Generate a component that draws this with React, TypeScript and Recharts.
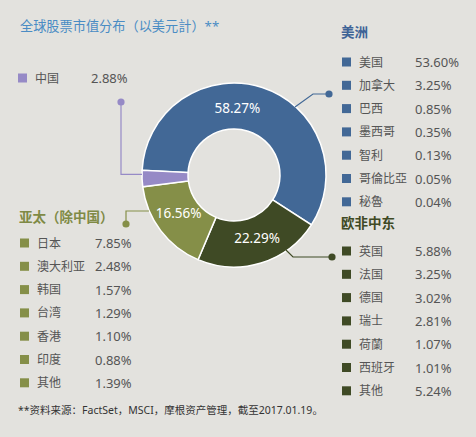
import React from 'react';
import { PieChart, Pie, Cell } from 'recharts';

const regions = ['美洲', '欧非中东', '亚太（除中国）', '中国'];
const regionValues = [58.27, 22.29, 16.56, 2.88];
const regionColors = ['#426896', '#3f4a25', '#858f48', '#968ac6'];

const americasNames = ['美国', '加拿大', '巴西', '墨西哥', '智利', '哥倫比亞', '秘魯'];
const americasValues = ['53.60%', '3.25%', '0.85%', '0.35%', '0.13%', '0.05%', '0.04%'];
const emeaNames = ['英国', '法国', '德国', '瑞士', '荷蘭', '西班牙', '其他'];
const emeaValues = ['5.88%', '3.25%', '3.02%', '2.81%', '1.07%', '1.01%', '5.24%'];
const asiaNames = ['日本', '澳大利亚', '韩国', '台湾', '香港', '印度', '其他'];
const asiaValues = ['7.85%', '2.48%', '1.57%', '1.29%', '1.10%', '0.88%', '1.39%'];
const chinaValue = '2.88%';

const title = '全球股票市值分布（以美元計）**';
const footnote = '**资料来源：FactSet，MSCI，摩根资产管理，截至2017.01.19。';

const data = regions.map((name, i) => ({ name, value: regionValues[i] }));

const FONT = '"Noto Sans", "Noto Sans CJK SC", sans-serif';
const RAD = Math.PI / 180;

// leader line shapes relative to the pie centre: [dot, corner, edge]
const leaders: number[][][] = [
  [[95, -81], [79, -81], [61, -68]],
  [[98, 82], [59, 82], [52, 75]],
  [[-108, 49], [-108, 36], [-85, 36]],
  [[-113, -73], [-113, -0.7], [-92, -0.7]],
];
const labelAngleShift = [15, 3, -3, 0];

const renderLabel = (props: any) => {
  const { cx, cy, midAngle, index } = props;
  const lead = leaders[index];
  const color = regionColors[index];
  const pts = lead.map(([dx, dy]) => `${cx + dx},${cy + dy}`).join(' ');
  const a = (midAngle + labelAngleShift[index]) * RAD;
  const r = 67;
  const tx = cx + r * Math.cos(a);
  const ty = cy - r * Math.sin(a);
  return (
    <g key={`lbl-${index}`}>
      <polyline points={pts} fill="none" stroke={color} strokeWidth={1.2} />
      <circle cx={cx + lead[0][0]} cy={cy + lead[0][1]} r={3.6} fill={color} />
      {index < 3 && (
        <text x={tx} y={ty} fill="#ffffff" fontSize={13.5} fontFamily={FONT} textAnchor="middle" dominantBaseline="central">
          {`${regionValues[index].toFixed(2)}%`}
        </text>
      )}
    </g>
  );
};

const Group = ({ x, headerY, header, headerColor, names, values, color, valueX, rowStart }: any) => (
  <g>
    {header && (
      <text x={x} y={headerY} fill={headerColor} fontSize={13.5} fontWeight="bold" fontFamily={FONT} dominantBaseline="central">
        {header}
      </text>
    )}
    {names.map((n: string, i: number) => {
      const y = rowStart + i * 23.3;
      return (
        <g key={n + i}>
          <rect x={x + 1} y={y - 4.5} width={9} height={9} fill={color} />
          <text x={x + 18} y={y} fill="#555" fontSize={12} fontFamily={FONT} dominantBaseline="central">{n}</text>
          <text x={valueX} y={y} fill="#555" fontSize={13} fontFamily={FONT} dominantBaseline="central">{values[i]}</text>
        </g>
      );
    })}
  </g>
);

export default function App() {
  return (
    <div style={{ position: 'absolute', left: 0, top: 0, width: 476, height: 437, background: '#e3e2de', fontFamily: FONT }}>
      <svg width={476} height={437} style={{ position: 'absolute', left: 0, top: 0 }}>
        <text x={20} y={26} fill="#4a8cc4" fontSize={13.2} fontFamily={FONT} dominantBaseline="central">{title}</text>
        <Group x={17} names={['中国']} values={[chinaValue]} color={regionColors[3]} valueX={91} rowStart={78} />
        <Group x={341} headerY={32} header={regions[0]} headerColor="#3e6396" names={americasNames} values={americasValues} color={regionColors[0]} valueX={415} rowStart={62} />
        <Group x={341} headerY={223} header={regions[1]} headerColor="#3f4a25" names={emeaNames} values={emeaValues} color={regionColors[1]} valueX={415} rowStart={251} />
        <Group x={19} headerY={217} header={regions[2]} headerColor="#7f8a45" names={asiaNames} values={asiaValues} color={regionColors[2]} valueX={95} rowStart={243} />
        <text x={18} y={410} fill="#333" fontSize={10.5} fontFamily={FONT} dominantBaseline="central">{footnote}</text>
      </svg>
      <div style={{ position: 'absolute', left: 0, top: 0 }}>
        <PieChart width={476} height={437}>
          <Pie
            data={data}
            dataKey="value"
            nameKey="name"
            cx={229}
            cy={170}
            innerRadius={46}
            outerRadius={92}
            startAngle={177}
            endAngle={-183}
            stroke="#ffffff"
            strokeWidth={1.5}
            label={renderLabel}
            labelLine={false}
            isAnimationActive={false}
          >
            {data.map((d, i) => (
              <Cell key={d.name} fill={regionColors[i]} />
            ))}
          </Pie>
        </PieChart>
      </div>
    </div>
  );
}
